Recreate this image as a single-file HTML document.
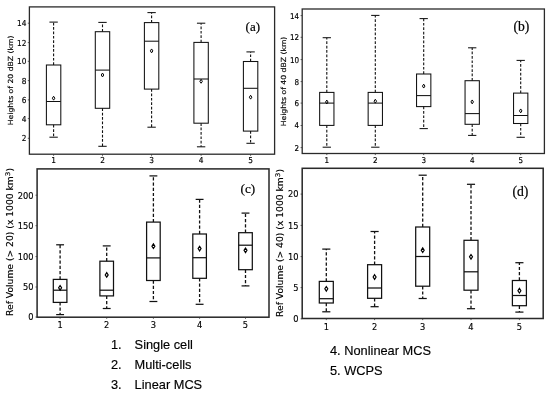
<!DOCTYPE html>
<html><head><meta charset="utf-8"><style>
html,body{margin:0;padding:0;background:#fff;}
body{width:550px;height:394px;position:relative;overflow:hidden;}
svg{position:absolute;left:0;top:0;}
.frame{fill:none;stroke:#2a2a2a;}
.box{fill:none;stroke:#111;}
.med{stroke:#111;}
.wh{stroke:#111;}
.cap{stroke:#111;}
.mean{fill:none;stroke:#000;stroke-linejoin:miter;stroke-miterlimit:10;}
.tick{stroke:#333;stroke-width:0.8;}
.tl{font-family:'DejaVu Sans', 'Liberation Sans', sans-serif;fill:#000;stroke:#000;stroke-width:0.15;}
.yl{font-family:'DejaVu Sans', 'Liberation Sans', sans-serif;fill:#000;stroke:#000;stroke-width:0.15;}
.pl{font-family:'Liberation Serif', serif;fill:#000;stroke:#000;stroke-width:0.2;}
.lg{font-family:'Liberation Sans', Arial, sans-serif;font-size:12.8px;fill:#000;stroke:#000;stroke-width:0.15;}
</style></head><body>
<svg width="550" height="394" viewBox="0 0 550 394">
<g stroke-width="1.05">
<line x1="53.6" y1="65" x2="53.6" y2="22.1" class="wh" stroke-width="1.10" stroke-dasharray="2.70 1.70"/>
<line x1="53.6" y1="124.8" x2="53.6" y2="137.2" class="wh" stroke-width="1.10" stroke-dasharray="2.70 1.70"/>
<line x1="49.42" y1="22.1" x2="57.78" y2="22.1" class="cap"/>
<line x1="49.42" y1="137.2" x2="57.78" y2="137.2" class="cap"/>
<rect x="46.40" y="65" width="14.40" height="59.80" class="box"/>
<line x1="46.40" y1="101.5" x2="60.80" y2="101.5" class="med"/>
<path d="M53.6 96.25L54.85 98.2L53.6 100.15L52.35 98.2Z" class="mean" stroke-width="1.00"/>
<line x1="102.5" y1="31.7" x2="102.5" y2="22.4" class="wh" stroke-width="1.10" stroke-dasharray="2.70 1.70"/>
<line x1="102.5" y1="108.3" x2="102.5" y2="146.3" class="wh" stroke-width="1.10" stroke-dasharray="2.70 1.70"/>
<line x1="98.32" y1="22.4" x2="106.68" y2="22.4" class="cap"/>
<line x1="98.32" y1="146.3" x2="106.68" y2="146.3" class="cap"/>
<rect x="95.30" y="31.7" width="14.40" height="76.60" class="box"/>
<line x1="95.30" y1="70.1" x2="109.70" y2="70.1" class="med"/>
<path d="M102.5 73.05L103.75 75.0L102.5 76.95L101.25 75.0Z" class="mean" stroke-width="1.00"/>
<line x1="151.6" y1="22.6" x2="151.6" y2="12.6" class="wh" stroke-width="1.10" stroke-dasharray="2.70 1.70"/>
<line x1="151.6" y1="89.1" x2="151.6" y2="127.2" class="wh" stroke-width="1.10" stroke-dasharray="2.70 1.70"/>
<line x1="147.42" y1="12.6" x2="155.78" y2="12.6" class="cap"/>
<line x1="147.42" y1="127.2" x2="155.78" y2="127.2" class="cap"/>
<rect x="144.40" y="22.6" width="14.40" height="66.50" class="box"/>
<line x1="144.40" y1="41.2" x2="158.80" y2="41.2" class="med"/>
<path d="M151.6 48.95L152.85 50.9L151.6 52.85L150.35 50.9Z" class="mean" stroke-width="1.00"/>
<line x1="201.1" y1="42.4" x2="201.1" y2="23.2" class="wh" stroke-width="1.10" stroke-dasharray="2.70 1.70"/>
<line x1="201.1" y1="123.2" x2="201.1" y2="146.8" class="wh" stroke-width="1.10" stroke-dasharray="2.70 1.70"/>
<line x1="196.92" y1="23.2" x2="205.28" y2="23.2" class="cap"/>
<line x1="196.92" y1="146.8" x2="205.28" y2="146.8" class="cap"/>
<rect x="193.90" y="42.4" width="14.40" height="80.80" class="box"/>
<line x1="193.90" y1="79.0" x2="208.30" y2="79.0" class="med"/>
<path d="M201.1 79.35L202.35 81.3L201.1 83.25L199.85 81.3Z" class="mean" stroke-width="1.00"/>
<line x1="250.6" y1="61.5" x2="250.6" y2="51.9" class="wh" stroke-width="1.10" stroke-dasharray="2.70 1.70"/>
<line x1="250.6" y1="131.1" x2="250.6" y2="143.3" class="wh" stroke-width="1.10" stroke-dasharray="2.70 1.70"/>
<line x1="246.42" y1="51.9" x2="254.78" y2="51.9" class="cap"/>
<line x1="246.42" y1="143.3" x2="254.78" y2="143.3" class="cap"/>
<rect x="243.40" y="61.5" width="14.40" height="69.60" class="box"/>
<line x1="243.40" y1="88.3" x2="257.80" y2="88.3" class="med"/>
<path d="M250.6 95.25L251.85 97.2L250.6 99.15L249.35 97.2Z" class="mean" stroke-width="1.00"/>
</g>
<rect x="29.4" y="6.9" width="245.20" height="147.30" class="frame" stroke-width="1.30"/>
<line x1="27.80" y1="138.3" x2="29.4" y2="138.3" class="tick"/>
<text transform="translate(26.40,141.29) scale(1,1.11)" text-anchor="end" class="tl" font-size="7.4">2</text>
<line x1="27.80" y1="118.6" x2="29.4" y2="118.6" class="tick"/>
<text transform="translate(26.40,121.59) scale(1,1.11)" text-anchor="end" class="tl" font-size="7.4">4</text>
<line x1="27.80" y1="99.9" x2="29.4" y2="99.9" class="tick"/>
<text transform="translate(26.40,102.89) scale(1,1.11)" text-anchor="end" class="tl" font-size="7.4">6</text>
<line x1="27.80" y1="80.6" x2="29.4" y2="80.6" class="tick"/>
<text transform="translate(26.40,83.59) scale(1,1.11)" text-anchor="end" class="tl" font-size="7.4">8</text>
<line x1="27.80" y1="61.3" x2="29.4" y2="61.3" class="tick"/>
<text transform="translate(26.40,64.29) scale(1,1.11)" text-anchor="end" class="tl" font-size="7.4">10</text>
<line x1="27.80" y1="42.6" x2="29.4" y2="42.6" class="tick"/>
<text transform="translate(26.40,45.59) scale(1,1.11)" text-anchor="end" class="tl" font-size="7.4">12</text>
<line x1="27.80" y1="23.2" x2="29.4" y2="23.2" class="tick"/>
<text transform="translate(26.40,26.19) scale(1,1.11)" text-anchor="end" class="tl" font-size="7.4">14</text>
<line x1="53.6" y1="154.2" x2="53.6" y2="155.80" class="tick"/>
<text transform="translate(53.6,163.1) scale(1,1.11)" text-anchor="middle" class="tl" font-size="7.4">1</text>
<line x1="102.5" y1="154.2" x2="102.5" y2="155.80" class="tick"/>
<text transform="translate(102.5,163.1) scale(1,1.11)" text-anchor="middle" class="tl" font-size="7.4">2</text>
<line x1="151.6" y1="154.2" x2="151.6" y2="155.80" class="tick"/>
<text transform="translate(151.6,163.1) scale(1,1.11)" text-anchor="middle" class="tl" font-size="7.4">3</text>
<line x1="201.1" y1="154.2" x2="201.1" y2="155.80" class="tick"/>
<text transform="translate(201.1,163.1) scale(1,1.11)" text-anchor="middle" class="tl" font-size="7.4">4</text>
<line x1="250.6" y1="154.2" x2="250.6" y2="155.80" class="tick"/>
<text transform="translate(250.6,163.1) scale(1,1.11)" text-anchor="middle" class="tl" font-size="7.4">5</text>
<text x="245.6" y="30.6" class="pl" font-size="13">(a)</text>
<text transform="translate(13.0,80.4) scale(1,1.1) rotate(-90)" text-anchor="middle" class="yl" font-size="7.0">Heights of 20 dBZ (km)</text>
<g stroke-width="1.05">
<line x1="326.8" y1="92.4" x2="326.8" y2="37.7" class="wh" stroke-width="1.10" stroke-dasharray="2.70 1.70"/>
<line x1="326.8" y1="125.4" x2="326.8" y2="147.2" class="wh" stroke-width="1.10" stroke-dasharray="2.70 1.70"/>
<line x1="322.65" y1="37.7" x2="330.95" y2="37.7" class="cap"/>
<line x1="322.65" y1="147.2" x2="330.95" y2="147.2" class="cap"/>
<rect x="319.65" y="92.4" width="14.30" height="33.00" class="box"/>
<line x1="319.65" y1="103.1" x2="333.95" y2="103.1" class="med"/>
<path d="M326.8 100.05L328.05 102.0L326.8 103.95L325.55 102.0Z" class="mean" stroke-width="1.00"/>
<line x1="375.3" y1="92.4" x2="375.3" y2="15.4" class="wh" stroke-width="1.10" stroke-dasharray="2.70 1.70"/>
<line x1="375.3" y1="125.4" x2="375.3" y2="147.2" class="wh" stroke-width="1.10" stroke-dasharray="2.70 1.70"/>
<line x1="371.15" y1="15.4" x2="379.45" y2="15.4" class="cap"/>
<line x1="371.15" y1="147.2" x2="379.45" y2="147.2" class="cap"/>
<rect x="368.15" y="92.4" width="14.30" height="33.00" class="box"/>
<line x1="368.15" y1="103.1" x2="382.45" y2="103.1" class="med"/>
<path d="M375.3 99.25L376.55 101.2L375.3 103.15L374.05 101.2Z" class="mean" stroke-width="1.00"/>
<line x1="423.7" y1="74.0" x2="423.7" y2="18.6" class="wh" stroke-width="1.10" stroke-dasharray="2.70 1.70"/>
<line x1="423.7" y1="106.6" x2="423.7" y2="128.6" class="wh" stroke-width="1.10" stroke-dasharray="2.70 1.70"/>
<line x1="419.55" y1="18.6" x2="427.85" y2="18.6" class="cap"/>
<line x1="419.55" y1="128.6" x2="427.85" y2="128.6" class="cap"/>
<rect x="416.55" y="74.0" width="14.30" height="32.60" class="box"/>
<line x1="416.55" y1="95.6" x2="430.85" y2="95.6" class="med"/>
<path d="M423.7 84.15L424.95 86.1L423.7 88.05L422.45 86.1Z" class="mean" stroke-width="1.00"/>
<line x1="472.2" y1="80.7" x2="472.2" y2="47.8" class="wh" stroke-width="1.10" stroke-dasharray="2.70 1.70"/>
<line x1="472.2" y1="124.3" x2="472.2" y2="135.4" class="wh" stroke-width="1.10" stroke-dasharray="2.70 1.70"/>
<line x1="468.05" y1="47.8" x2="476.35" y2="47.8" class="cap"/>
<line x1="468.05" y1="135.4" x2="476.35" y2="135.4" class="cap"/>
<rect x="465.05" y="80.7" width="14.30" height="43.60" class="box"/>
<line x1="465.05" y1="113.6" x2="479.35" y2="113.6" class="med"/>
<path d="M472.2 99.95L473.45 101.9L472.2 103.85L470.95 101.9Z" class="mean" stroke-width="1.00"/>
<line x1="520.7" y1="93.1" x2="520.7" y2="60.4" class="wh" stroke-width="1.10" stroke-dasharray="2.70 1.70"/>
<line x1="520.7" y1="123.5" x2="520.7" y2="137.3" class="wh" stroke-width="1.10" stroke-dasharray="2.70 1.70"/>
<line x1="516.55" y1="60.4" x2="524.85" y2="60.4" class="cap"/>
<line x1="516.55" y1="137.3" x2="524.85" y2="137.3" class="cap"/>
<rect x="513.55" y="93.1" width="14.30" height="30.40" class="box"/>
<line x1="513.55" y1="115.5" x2="527.85" y2="115.5" class="med"/>
<path d="M520.7 108.95L521.95 110.9L520.7 112.85L519.45 110.9Z" class="mean" stroke-width="1.00"/>
</g>
<rect x="302.2" y="9.0" width="242.20" height="144.50" class="frame" stroke-width="1.30"/>
<line x1="300.60" y1="147.6" x2="302.2" y2="147.6" class="tick"/>
<text transform="translate(299.10,150.51) scale(1,1.11)" text-anchor="end" class="tl" font-size="7.2">2</text>
<line x1="300.60" y1="125.5" x2="302.2" y2="125.5" class="tick"/>
<text transform="translate(299.10,128.41) scale(1,1.11)" text-anchor="end" class="tl" font-size="7.2">4</text>
<line x1="300.60" y1="103.1" x2="302.2" y2="103.1" class="tick"/>
<text transform="translate(299.10,106.01) scale(1,1.11)" text-anchor="end" class="tl" font-size="7.2">6</text>
<line x1="300.60" y1="81.6" x2="302.2" y2="81.6" class="tick"/>
<text transform="translate(299.10,84.51) scale(1,1.11)" text-anchor="end" class="tl" font-size="7.2">8</text>
<line x1="300.60" y1="59.6" x2="302.2" y2="59.6" class="tick"/>
<text transform="translate(299.10,62.51) scale(1,1.11)" text-anchor="end" class="tl" font-size="7.2">10</text>
<line x1="300.60" y1="37.3" x2="302.2" y2="37.3" class="tick"/>
<text transform="translate(299.10,40.21) scale(1,1.11)" text-anchor="end" class="tl" font-size="7.2">12</text>
<line x1="300.60" y1="15.6" x2="302.2" y2="15.6" class="tick"/>
<text transform="translate(299.10,18.51) scale(1,1.11)" text-anchor="end" class="tl" font-size="7.2">14</text>
<line x1="326.8" y1="153.5" x2="326.8" y2="155.10" class="tick"/>
<text transform="translate(326.8,163.1) scale(1,1.11)" text-anchor="middle" class="tl" font-size="7.2">1</text>
<line x1="375.3" y1="153.5" x2="375.3" y2="155.10" class="tick"/>
<text transform="translate(375.3,163.1) scale(1,1.11)" text-anchor="middle" class="tl" font-size="7.2">2</text>
<line x1="423.7" y1="153.5" x2="423.7" y2="155.10" class="tick"/>
<text transform="translate(423.7,163.1) scale(1,1.11)" text-anchor="middle" class="tl" font-size="7.2">3</text>
<line x1="472.2" y1="153.5" x2="472.2" y2="155.10" class="tick"/>
<text transform="translate(472.2,163.1) scale(1,1.11)" text-anchor="middle" class="tl" font-size="7.2">4</text>
<line x1="520.7" y1="153.5" x2="520.7" y2="155.10" class="tick"/>
<text transform="translate(520.7,163.1) scale(1,1.11)" text-anchor="middle" class="tl" font-size="7.2">5</text>
<text x="513.5" y="30.6" class="pl" font-size="13.6">(b)</text>
<text transform="translate(286.3,81.5) scale(1,1.1) rotate(-90)" text-anchor="middle" class="yl" font-size="7.0">Heights of 40 dBZ (km)</text>
<g stroke-width="1.24">
<line x1="60.1" y1="279.4" x2="60.1" y2="244.8" class="wh" stroke-width="1.30" stroke-dasharray="3.19 2.01"/>
<line x1="60.1" y1="302.4" x2="60.1" y2="314.6" class="wh" stroke-width="1.30" stroke-dasharray="3.19 2.01"/>
<line x1="56.16" y1="244.8" x2="64.04" y2="244.8" class="cap"/>
<line x1="56.16" y1="314.6" x2="64.04" y2="314.6" class="cap"/>
<rect x="53.30" y="279.4" width="13.60" height="23.00" class="box"/>
<line x1="53.30" y1="290.2" x2="66.90" y2="290.2" class="med"/>
<path d="M60.1 285.50L61.58 287.8L60.1 290.10L58.62 287.8Z" class="mean" stroke-width="1.18"/>
<line x1="106.7" y1="261.2" x2="106.7" y2="245.9" class="wh" stroke-width="1.30" stroke-dasharray="3.19 2.01"/>
<line x1="106.7" y1="295.9" x2="106.7" y2="308.5" class="wh" stroke-width="1.30" stroke-dasharray="3.19 2.01"/>
<line x1="102.76" y1="245.9" x2="110.64" y2="245.9" class="cap"/>
<line x1="102.76" y1="308.5" x2="110.64" y2="308.5" class="cap"/>
<rect x="99.90" y="261.2" width="13.60" height="34.70" class="box"/>
<line x1="99.90" y1="290.2" x2="113.50" y2="290.2" class="med"/>
<path d="M106.7 272.60L108.17 274.9L106.7 277.20L105.23 274.9Z" class="mean" stroke-width="1.18"/>
<line x1="153.4" y1="222.1" x2="153.4" y2="175.9" class="wh" stroke-width="1.30" stroke-dasharray="3.19 2.01"/>
<line x1="153.4" y1="280.5" x2="153.4" y2="301.5" class="wh" stroke-width="1.30" stroke-dasharray="3.19 2.01"/>
<line x1="149.46" y1="175.9" x2="157.34" y2="175.9" class="cap"/>
<line x1="149.46" y1="301.5" x2="157.34" y2="301.5" class="cap"/>
<rect x="146.60" y="222.1" width="13.60" height="58.40" class="box"/>
<line x1="146.60" y1="257.9" x2="160.20" y2="257.9" class="med"/>
<path d="M153.4 243.90L154.88 246.2L153.4 248.50L151.93 246.2Z" class="mean" stroke-width="1.18"/>
<line x1="199.6" y1="234.0" x2="199.6" y2="199.4" class="wh" stroke-width="1.30" stroke-dasharray="3.19 2.01"/>
<line x1="199.6" y1="278.3" x2="199.6" y2="304.3" class="wh" stroke-width="1.30" stroke-dasharray="3.19 2.01"/>
<line x1="195.66" y1="199.4" x2="203.54" y2="199.4" class="cap"/>
<line x1="195.66" y1="304.3" x2="203.54" y2="304.3" class="cap"/>
<rect x="192.80" y="234.0" width="13.60" height="44.30" class="box"/>
<line x1="192.80" y1="257.7" x2="206.40" y2="257.7" class="med"/>
<path d="M199.6 246.30L201.07 248.6L199.6 250.90L198.12 248.6Z" class="mean" stroke-width="1.18"/>
<line x1="245.5" y1="232.7" x2="245.5" y2="213.1" class="wh" stroke-width="1.30" stroke-dasharray="3.19 2.01"/>
<line x1="245.5" y1="269.7" x2="245.5" y2="285.9" class="wh" stroke-width="1.30" stroke-dasharray="3.19 2.01"/>
<line x1="241.56" y1="213.1" x2="249.44" y2="213.1" class="cap"/>
<line x1="241.56" y1="285.9" x2="249.44" y2="285.9" class="cap"/>
<rect x="238.70" y="232.7" width="13.60" height="37.00" class="box"/>
<line x1="238.70" y1="245.2" x2="252.30" y2="245.2" class="med"/>
<path d="M245.5 248.00L246.97 250.3L245.5 252.60L244.03 250.3Z" class="mean" stroke-width="1.18"/>
</g>
<rect x="37.1" y="168.9" width="231.90" height="148.30" class="frame" stroke-width="1.53"/>
<line x1="35.50" y1="317.0" x2="37.1" y2="317.0" class="tick"/>
<text transform="translate(33.50,320.39) scale(1,1.12)" text-anchor="end" class="tl" font-size="8.3">0</text>
<line x1="35.50" y1="287.0" x2="37.1" y2="287.0" class="tick"/>
<text transform="translate(33.50,290.39) scale(1,1.12)" text-anchor="end" class="tl" font-size="8.3">50</text>
<line x1="35.50" y1="256.6" x2="37.1" y2="256.6" class="tick"/>
<text transform="translate(33.50,259.99) scale(1,1.12)" text-anchor="end" class="tl" font-size="8.3">100</text>
<line x1="35.50" y1="225.7" x2="37.1" y2="225.7" class="tick"/>
<text transform="translate(33.50,229.09) scale(1,1.12)" text-anchor="end" class="tl" font-size="8.3">150</text>
<line x1="35.50" y1="195.2" x2="37.1" y2="195.2" class="tick"/>
<text transform="translate(33.50,198.59) scale(1,1.12)" text-anchor="end" class="tl" font-size="8.3">200</text>
<line x1="60.1" y1="317.2" x2="60.1" y2="318.80" class="tick"/>
<text transform="translate(60.1,328.0) scale(1,1.12)" text-anchor="middle" class="tl" font-size="8.3">1</text>
<line x1="106.7" y1="317.2" x2="106.7" y2="318.80" class="tick"/>
<text transform="translate(106.7,328.0) scale(1,1.12)" text-anchor="middle" class="tl" font-size="8.3">2</text>
<line x1="153.4" y1="317.2" x2="153.4" y2="318.80" class="tick"/>
<text transform="translate(153.4,328.0) scale(1,1.12)" text-anchor="middle" class="tl" font-size="8.3">3</text>
<line x1="199.6" y1="317.2" x2="199.6" y2="318.80" class="tick"/>
<text transform="translate(199.6,328.0) scale(1,1.12)" text-anchor="middle" class="tl" font-size="8.3">4</text>
<line x1="245.5" y1="317.2" x2="245.5" y2="318.80" class="tick"/>
<text transform="translate(245.5,328.0) scale(1,1.12)" text-anchor="middle" class="tl" font-size="8.3">5</text>
<text x="240.6" y="192.6" class="pl" font-size="13.2">(c)</text>
<text transform="translate(13.2,242.0) scale(1,1.15) rotate(-90)" text-anchor="middle" class="yl" font-size="8.0">Ref Volume (&gt; 20) (x 1000 km<tspan dy="-3.60" font-size="6.24">3</tspan><tspan dy="3.60">)</tspan></text>
<g stroke-width="1.24">
<line x1="326.3" y1="281.4" x2="326.3" y2="249.1" class="wh" stroke-width="1.30" stroke-dasharray="3.19 2.01"/>
<line x1="326.3" y1="303.0" x2="326.3" y2="311.8" class="wh" stroke-width="1.30" stroke-dasharray="3.19 2.01"/>
<line x1="322.24" y1="249.1" x2="330.36" y2="249.1" class="cap"/>
<line x1="322.24" y1="311.8" x2="330.36" y2="311.8" class="cap"/>
<rect x="319.30" y="281.4" width="14.00" height="21.60" class="box"/>
<line x1="319.30" y1="298.7" x2="333.30" y2="298.7" class="med"/>
<path d="M326.3 286.50L327.78 288.8L326.3 291.10L324.82 288.8Z" class="mean" stroke-width="1.18"/>
<line x1="374.6" y1="264.7" x2="374.6" y2="231.5" class="wh" stroke-width="1.30" stroke-dasharray="3.19 2.01"/>
<line x1="374.6" y1="298.3" x2="374.6" y2="306.7" class="wh" stroke-width="1.30" stroke-dasharray="3.19 2.01"/>
<line x1="370.54" y1="231.5" x2="378.66" y2="231.5" class="cap"/>
<line x1="370.54" y1="306.7" x2="378.66" y2="306.7" class="cap"/>
<rect x="367.60" y="264.7" width="14.00" height="33.60" class="box"/>
<line x1="367.60" y1="288.0" x2="381.60" y2="288.0" class="med"/>
<path d="M374.6 274.70L376.08 277.0L374.6 279.30L373.12 277.0Z" class="mean" stroke-width="1.18"/>
<line x1="422.7" y1="227.0" x2="422.7" y2="175.2" class="wh" stroke-width="1.30" stroke-dasharray="3.19 2.01"/>
<line x1="422.7" y1="286.2" x2="422.7" y2="298.5" class="wh" stroke-width="1.30" stroke-dasharray="3.19 2.01"/>
<line x1="418.64" y1="175.2" x2="426.76" y2="175.2" class="cap"/>
<line x1="418.64" y1="298.5" x2="426.76" y2="298.5" class="cap"/>
<rect x="415.70" y="227.0" width="14.00" height="59.20" class="box"/>
<line x1="415.70" y1="256.5" x2="429.70" y2="256.5" class="med"/>
<path d="M422.7 247.90L424.18 250.2L422.7 252.50L421.22 250.2Z" class="mean" stroke-width="1.18"/>
<line x1="471.0" y1="240.3" x2="471.0" y2="184.3" class="wh" stroke-width="1.30" stroke-dasharray="3.19 2.01"/>
<line x1="471.0" y1="290.2" x2="471.0" y2="308.7" class="wh" stroke-width="1.30" stroke-dasharray="3.19 2.01"/>
<line x1="466.94" y1="184.3" x2="475.06" y2="184.3" class="cap"/>
<line x1="466.94" y1="308.7" x2="475.06" y2="308.7" class="cap"/>
<rect x="464.00" y="240.3" width="14.00" height="49.90" class="box"/>
<line x1="464.00" y1="271.8" x2="478.00" y2="271.8" class="med"/>
<path d="M471.0 254.50L472.48 256.8L471.0 259.10L469.52 256.8Z" class="mean" stroke-width="1.18"/>
<line x1="519.4" y1="280.5" x2="519.4" y2="262.7" class="wh" stroke-width="1.30" stroke-dasharray="3.19 2.01"/>
<line x1="519.4" y1="305.7" x2="519.4" y2="312.1" class="wh" stroke-width="1.30" stroke-dasharray="3.19 2.01"/>
<line x1="515.34" y1="262.7" x2="523.46" y2="262.7" class="cap"/>
<line x1="515.34" y1="312.1" x2="523.46" y2="312.1" class="cap"/>
<rect x="512.40" y="280.5" width="14.00" height="25.20" class="box"/>
<line x1="512.40" y1="295.5" x2="526.40" y2="295.5" class="med"/>
<path d="M519.4 288.40L520.88 290.7L519.4 293.00L517.92 290.7Z" class="mean" stroke-width="1.18"/>
</g>
<rect x="302.2" y="168.3" width="241.00" height="150.20" class="frame" stroke-width="1.53"/>
<line x1="300.60" y1="318.8" x2="302.2" y2="318.8" class="tick"/>
<text transform="translate(298.60,322.19) scale(1,1.12)" text-anchor="end" class="tl" font-size="8.3">0</text>
<line x1="300.60" y1="287.6" x2="302.2" y2="287.6" class="tick"/>
<text transform="translate(298.60,290.99) scale(1,1.12)" text-anchor="end" class="tl" font-size="8.3">5</text>
<line x1="300.60" y1="256.6" x2="302.2" y2="256.6" class="tick"/>
<text transform="translate(298.60,259.99) scale(1,1.12)" text-anchor="end" class="tl" font-size="8.3">10</text>
<line x1="300.60" y1="225.4" x2="302.2" y2="225.4" class="tick"/>
<text transform="translate(298.60,228.79) scale(1,1.12)" text-anchor="end" class="tl" font-size="8.3">15</text>
<line x1="300.60" y1="194.1" x2="302.2" y2="194.1" class="tick"/>
<text transform="translate(298.60,197.49) scale(1,1.12)" text-anchor="end" class="tl" font-size="8.3">20</text>
<line x1="326.3" y1="318.5" x2="326.3" y2="320.10" class="tick"/>
<text transform="translate(326.3,330.0) scale(1,1.12)" text-anchor="middle" class="tl" font-size="8.3">1</text>
<line x1="374.6" y1="318.5" x2="374.6" y2="320.10" class="tick"/>
<text transform="translate(374.6,330.0) scale(1,1.12)" text-anchor="middle" class="tl" font-size="8.3">2</text>
<line x1="422.7" y1="318.5" x2="422.7" y2="320.10" class="tick"/>
<text transform="translate(422.7,330.0) scale(1,1.12)" text-anchor="middle" class="tl" font-size="8.3">3</text>
<line x1="471.0" y1="318.5" x2="471.0" y2="320.10" class="tick"/>
<text transform="translate(471.0,330.0) scale(1,1.12)" text-anchor="middle" class="tl" font-size="8.3">4</text>
<line x1="519.4" y1="318.5" x2="519.4" y2="320.10" class="tick"/>
<text transform="translate(519.4,330.0) scale(1,1.12)" text-anchor="middle" class="tl" font-size="8.3">5</text>
<text x="512.4" y="196.2" class="pl" font-size="13.7">(d)</text>
<text transform="translate(283.2,243.0) scale(1,1.15) rotate(-90)" text-anchor="middle" class="yl" font-size="8.0">Ref Volume (&gt; 40) (x 1000 km<tspan dy="-3.60" font-size="6.24">3</tspan><tspan dy="3.60">)</tspan></text>
<text x="110.9" y="348.9" class="lg">1.</text>
<text x="134.6" y="348.9" class="lg">Single cell</text>
<text x="110.9" y="368.7" class="lg">2.</text>
<text x="134.6" y="368.7" class="lg">Multi-cells</text>
<text x="110.9" y="388.6" class="lg">3.</text>
<text x="134.6" y="388.6" class="lg">Linear MCS</text>
<text x="330.0" y="354.5" class="lg">4. Nonlinear MCS</text>
<text x="330.0" y="375.1" class="lg">5. WCPS</text>
</svg>
</body></html>
